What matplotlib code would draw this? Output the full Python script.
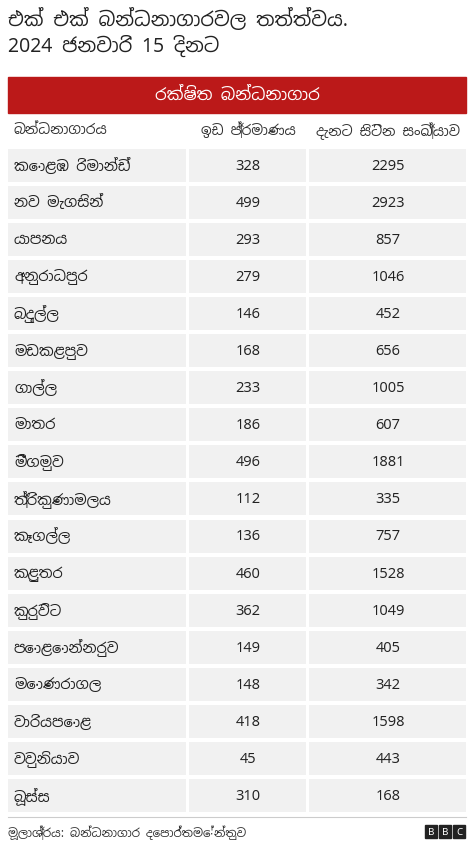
import matplotlib
matplotlib.use("Agg")
import matplotlib.pyplot as plt
from matplotlib.patches import Rectangle

plt.rcParams['font.family'] = ['Noto Sans Sinhala', 'Noto Serif Sinhala', 'Noto Sans', 'DejaVu Sans']

title_lines = ["එක් එක් බන්ධනාගාරවල තත්ත්වය.", "2024 ජනවාරි 15 දිනට"]
group_header = "රක්ෂිත බන්ධනාගාර"
col_headers = ["බන්ධනාගාරය", "ඉඩ ප්‍රමාණය", "දැනට සිටින සංඛ්‍යාව"]
prisons = ["කොළඹ රිමාන්ඩ්", "නව මැගසින්", "යාපනය", "අනුරාධපුර", "බදුල්ල",
           "මඩකළපුව", "ගාල්ල", "මාතර", "මීගමුව", "ත්‍රිකුණාමලය", "කෑගල්ල",
           "කළුතර", "කුරුවිට", "පොළොන්නරුව", "මොණරාගල", "වාරියපොළ",
           "වවුනියාව", "බූස්ස"]
capacity = [328, 499, 293, 279, 146, 168, 233, 186, 496, 112, 136, 460, 362,
            149, 148, 418, 45, 310]
current = [2295, 2923, 857, 1046, 452, 656, 1005, 607, 1881, 335, 757, 1528,
           1049, 405, 342, 1598, 443, 168]
source = "මූලාශ්‍රය: බන්ධනාගාර දෙපාර්තමේන්තුව"

fig = plt.figure(figsize=(4.74, 8.45), dpi=100)
ax = fig.add_axes([0, 0, 1, 1])
ax.set_xlim(0, 474)
ax.set_ylim(845, 0)
ax.axis('off')

# title
ax.text(8, 20, title_lines[0], fontsize=14, va='center', color='#222222')
ax.text(8, 46, title_lines[1], fontsize=14, va='center', color='#222222')

# red header bar
ax.add_patch(Rectangle((8, 78), 458, 36, color='#bb1919'))
ax.text(237, 96, group_header, fontsize=12, color='white', ha='center', va='center')

# column boundaries
cols = [(8, 186), (189, 306), (309, 466)]
ax.text(14, 131, col_headers[0], fontsize=10, va='center', color='#333333')
ax.text(248, 131, col_headers[1], fontsize=10, va='center', ha='center', color='#333333')
ax.text(388, 131, col_headers[2], fontsize=10, va='center', ha='center', color='#333333')

row0, step, h = 166, 37.1, 33
for i, (name, cap, cur) in enumerate(zip(prisons, capacity, current)):
    y = row0 + i * step
    for x0, x1 in cols:
        ax.add_patch(Rectangle((x0, y - h / 2), x1 - x0, h, color='#f1f1f1', lw=0))
    ax.text(14, y, name, fontsize=10.5, va='center', color='#222222')
    ax.text(248, y, str(cap), fontsize=10.5, va='center', ha='center', color='#222222')
    ax.text(388, y, str(cur), fontsize=10.5, va='center', ha='center', color='#222222')

# footer
ax.plot([8, 466], [818, 818], color='#cccccc', lw=0.8)
ax.text(8, 833, source, fontsize=8.5, va='center', color='#333333')
for k, ch in enumerate("BBC"):
    x = 425 + k * 14
    ax.add_patch(Rectangle((x, 826), 12, 13, color='#222222'))
    ax.text(x + 6, 832.5, ch, fontsize=7, color='white', ha='center', va='center',
            fontweight='bold')

fig.savefig("out.png", dpi=100)
